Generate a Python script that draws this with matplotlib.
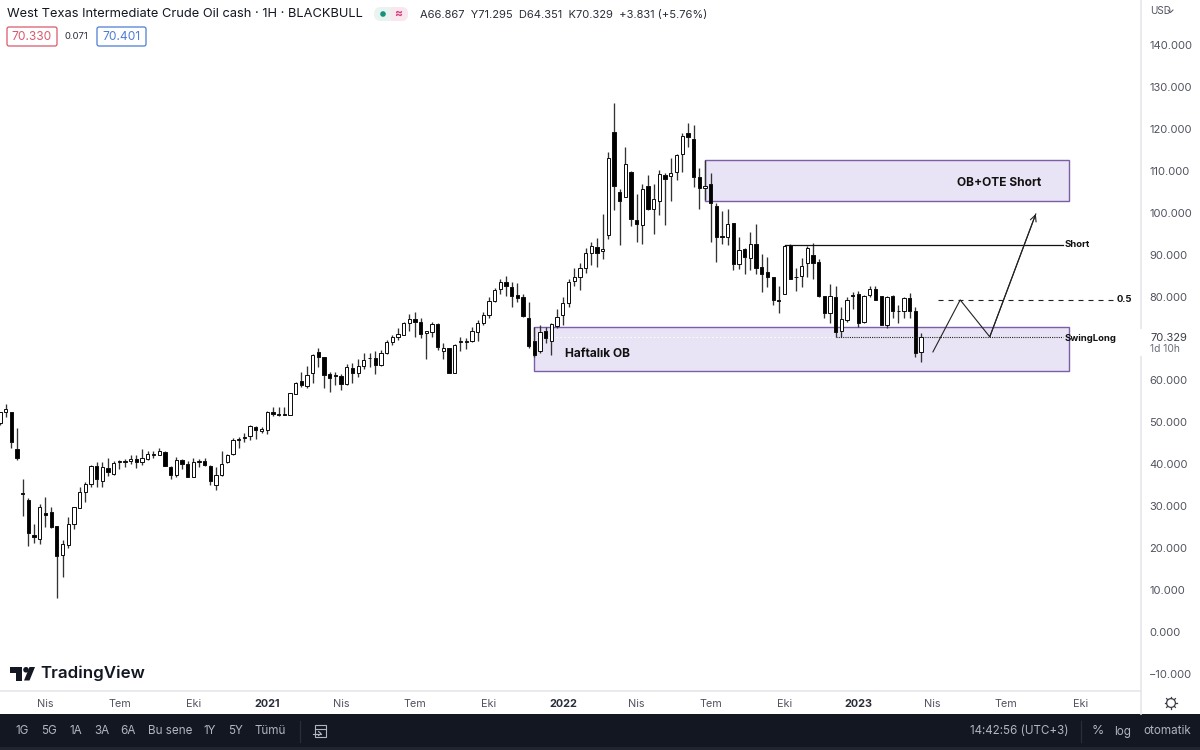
import matplotlib
matplotlib.use("Agg")
import matplotlib.pyplot as plt
from matplotlib.patches import Rectangle, FancyBboxPatch, Polygon, Circle

plt.rcParams['font.family'] = ['Inter', 'DejaVu Sans']

# Weekly candles (USD)
opens = [49.9,52.4,52.4,43.6,33.1,31.6,23.1,22.3,28.3,28.7,
         25.2,18.4,20.8,25.7,29.5,33.5,35.3,39.6,36.1,39.2,
         37.8,40.6,40.6,40.7,41.3,40.5,41.3,42.3,42.3,43.0,
         39.4,37.4,41.0,40.1,37.0,40.5,40.9,39.7,35.1,37.5,
         40.5,42.4,45.8,46.3,46.7,49.0,48.0,48.2,52.5,51.9,
         51.9,51.8,56.8,59.8,58.7,61.7,66.7,65.5,61.5,61.2,
         61.1,59.1,63.0,61.8,63.4,65.3,65.3,63.6,66.5,69.2,
         70.4,70.9,73.7,74.6,74.0,71.2,71.6,73.4,67.1,67.7,
         61.7,69.2,69.2,69.3,71.5,73.6,75.7,78.9,81.9,83.5,
         82.4,80.4,79.8,75.0,69.4,66.9,71.9,69.5,73.0,75.5,
         78.4,83.6,84.6,86.9,90.5,91.8,90.9,94.6,119.2,105.0,
         103.8,109.7,98.2,97.1,106.4,100.8,102.9,109.0,108.7,109.6,
         113.9,118.9,117.5,108.6,105.9,106.9,101.6,94.4,94.1,97.5,
         87.7,91.3,89.1,92.5,87.1,85.8,84.6,79.2,80.7,92.3,
         84.7,84.8,87.9,89.9,88.2,80.1,76.2,80.0,71.9,74.3,
         80.3,80.5,73.9,80.3,81.7,80.1,73.2,80.1,76.6,76.6,
         79.7,76.6,66.867]
highs = [52.4,54.4,52.4,48.6,36.6,31.9,25.8,30.5,32.1,29.7,
         25.2,21.9,27.5,29.9,34.5,35.8,39.8,40.5,40.5,41.6,
         40.8,41.0,41.3,42.3,42.1,43.6,43.2,43.2,43.8,43.2,
         39.7,41.7,41.2,40.8,41.4,41.3,41.5,39.8,39.4,43.2,
         42.5,46.2,46.6,47.5,49.4,49.2,49.0,52.7,53.7,53.6,
         53.6,57.1,59.7,62.1,63.4,66.3,67.7,65.7,61.9,62.1,
         61.5,63.9,64.2,65.2,66.6,66.6,66.9,67.3,69.6,70.8,
         72.4,73.9,75.8,76.3,74.8,71.9,73.9,73.6,69.0,67.8,
         68.8,70.3,70.0,72.8,74.4,76.4,79.8,82.0,84.1,84.9,
         83.5,83.3,80.6,78.8,72.8,73.2,72.8,73.6,77.0,79.8,
         84.3,86.9,88.1,91.5,92.9,93.9,99.8,114.4,126.2,105.6,
         115.7,109.9,104.5,106.8,109.0,106.8,110.2,109.4,113.0,114.0,
         118.9,121.3,120.9,110.6,112.6,109.4,102.4,100.5,100.8,97.5,
         94.1,91.5,95.4,97.2,90.1,89.5,84.7,82.5,92.3,92.5,
         86.9,89.1,92.1,92.7,89.0,80.1,83.0,82.6,77.6,79.8,
         81.2,81.4,80.4,82.5,82.6,80.2,80.1,80.4,78.0,80.0,
         80.8,77.4,71.295]
lows = [49.4,51.2,44.0,41.0,27.7,20.6,21.3,21.1,25.0,24.7,
        8.2,13.0,20.0,24.6,29.5,31.1,34.5,34.7,34.7,37.2,
        37.4,38.8,39.3,40.1,39.1,39.8,41.0,41.4,42.1,39.6,
        36.4,37.0,38.8,36.9,36.9,39.3,39.6,35.1,33.8,37.2,
        40.4,42.3,43.8,45.3,45.8,46.0,47.5,47.2,51.5,51.4,
        51.8,51.7,56.7,58.5,58.3,59.3,63.1,58.3,57.3,58.9,
        57.7,58.8,59.3,60.7,62.8,63.1,61.5,63.5,66.3,68.4,
        69.6,70.8,71.9,70.4,70.2,65.0,70.3,67.3,65.2,61.7,
        61.7,67.1,67.4,69.2,69.3,73.2,74.8,78.7,80.5,80.1,
        77.4,78.8,75.2,67.7,65.7,66.6,68.9,66.1,72.4,73.2,
        77.4,82.6,81.6,85.7,87.5,87.1,88.9,93.7,100.7,92.3,
        103.8,96.8,93.1,92.5,100.7,94.9,99.5,97.1,102.9,107.8,
        109.8,115.7,106.2,101.0,103.0,93.1,88.3,92.5,92.3,86.3,
        86.5,85.4,86.3,85.5,81.0,82.4,78.0,76.0,80.6,84.2,
        81.3,82.4,84.7,84.1,80.0,75.0,73.6,70.4,70.3,74.0,
        77.0,72.7,73.8,79.8,79.2,73.1,72.4,75.0,73.8,75.0,
        74.9,65.5,64.351]
closes = [52.4,53.3,45.3,41.4,32.8,23.7,22.7,29.8,28.0,25.1,
          18.2,21.1,25.7,29.7,33.5,35.2,39.5,36.6,39.4,38.2,
          40.2,40.8,40.8,41.3,40.5,41.6,42.5,42.5,43.2,39.7,
          37.5,41.0,40.1,37.0,40.6,40.9,39.8,35.9,37.5,40.1,
          42.3,45.7,46.0,46.5,49.1,48.2,48.3,52.5,52.0,51.8,
          51.8,56.9,59.5,58.8,61.4,66.1,65.5,61.4,60.6,61.0,
          59.1,63.1,61.8,63.4,64.9,65.4,63.6,66.5,69.2,70.4,
          71.1,73.7,74.6,73.9,71.1,71.7,73.4,67.9,67.7,61.7,
          68.5,69.3,69.3,71.8,73.8,75.5,78.9,81.6,83.5,82.5,
          80.2,79.6,75.4,68.1,66.1,71.6,70.0,73.5,75.2,78.4,
          83.5,84.6,86.7,90.5,92.1,90.3,91.3,113.0,106.4,102.9,
          111.5,98.4,97.2,105.7,101.0,103.2,109.2,108.1,109.5,113.8,
          118.3,118.0,108.4,106.0,106.4,102.2,94.1,94.3,97.2,87.7,
          91.1,89.4,92.5,86.9,85.5,84.7,79.1,79.0,92.1,84.3,
          84.6,87.4,91.7,88.0,80.1,76.2,80.2,71.6,74.6,79.3,
          80.1,73.8,80.2,81.7,79.3,73.3,79.8,76.5,76.5,79.7,
          76.5,66.5,70.329]

y_ticks = [140, 130, 120, 110, 100, 90, 80, 60, 50, 40, 30, 20, 10, 0, -10]
x_tick_pos = [8, 21, 34, 47, 60, 73, 86, 99, 112, 125, 138, 151, 164, 177, 190]
x_tick_labels = ['Nis', 'Tem', 'Eki', '2021', 'Nis', 'Tem', 'Eki', '2022',
                 'Nis', 'Tem', 'Eki', '2023', 'Nis', 'Tem', 'Eki']
zone_upper = (124.0, 188.0, 102.8, 112.6)
zone_lower = (93.9, 188.0, 62.2, 72.7)
short_level = 92.3
half_level = 79.2
swing_level = 70.3
last_price = 70.329
path_x = [164.1, 168.9, 174.1, 182.2]
path_y = [66.8, 79.2, 70.4, 99.7]
ranges = ['1G', '5G', '1A', '3A', '6A', 'Bu sene', '1Y', '5Y', 'Tümü']
range_x = [22, 49, 76, 102, 128, 170, 210, 236, 270]

fig = plt.figure(figsize=(12, 7.5), dpi=100, facecolor='white')
ax = fig.add_axes([0, 59/750, 1141/1200, 691/750])
ax.set_xlim(0, 1141/5.685)
ax.set_ylim(-14.07, 150.73)
ax.set_facecolor('white')
for s in ['top', 'left']:
    ax.spines[s].set_visible(False)
for s in ['right', 'bottom']:
    ax.spines[s].set_color('#e4e6ea')
    ax.spines[s].set_linewidth(1.2)

# zones
for x0, x1, y0, y1 in (zone_upper, zone_lower):
    ax.add_patch(Rectangle((x0, y0), x1-x0, y1-y0, facecolor='#e9e4f5',
                           edgecolor='#7b5ea7', linewidth=1.0, zorder=1))
ax.axhline(last_price, color='white', lw=0.7, ls=(0, (1.5, 2.5)), zorder=1.5)

# candles
idx = list(range(len(closes)))
ax.vlines(idx, lows, highs, color='#333333', lw=0.95, zorder=2)
for i in idx:
    top, bot = max(opens[i], closes[i]), min(opens[i], closes[i])
    col = 'black' if closes[i] < opens[i] else 'white'
    ax.bar(i, top-bot, bottom=bot, width=0.58, color=col, edgecolor='#111111',
           linewidth=0.72, zorder=3)

# drawings
ax.plot([138, 187], [short_level]*2, color='#111111', lw=0.9, zorder=4)
ax.plot([165, 196], [half_level]*2, color='#222222', lw=0.8, ls=(0, (4.5, 4.5)), zorder=4)
ax.plot([147, 187], [swing_level]*2, color='#222222', lw=0.8, ls=(0, (1, 1)), zorder=4)
ax.plot(path_x, path_y, color='#222222', lw=0.8, zorder=4)
ax.annotate('', xy=(path_x[-1], path_y[-1]), xytext=(path_x[-2], path_y[-2]),
            arrowprops=dict(arrowstyle='->', color='#222222', lw=0.8,
                            mutation_scale=11, shrinkA=0, shrinkB=0), zorder=4)
lab = dict(fontweight='bold', color='#111111', va='center', zorder=5)
ax.text(957/5.685, 107.2, 'OB+OTE Short', fontsize=8.6, **lab)
ax.text(565/5.685, 66.3, 'Haftalık OB', fontsize=8.6, **lab)
ax.text(1065/5.685, short_level, 'Short', fontsize=6.8, **lab)
ax.text(1117/5.685, half_level, '0.5', fontsize=6.8, **lab)
ax.text(1065/5.685, swing_level-0.3, 'SwingLong', fontsize=6.8, **lab)

# axes ticks
ax.yaxis.tick_right()
ax.set_yticks(y_ticks)
ax.set_yticklabels([f'{t:.3f}'.replace('-', '\u2212') for t in y_ticks],
                   fontsize=8.0, color='#50535e')
ax.set_xticks(x_tick_pos)
ax.set_xticklabels(x_tick_labels, fontsize=7.8, color='#50535e')
ax.tick_params(axis='both', length=0)
ax.tick_params(axis='y', pad=6)
ax.tick_params(axis='x', pad=6)
for t in ax.get_xticklabels():
    if t.get_text().isdigit():
        t.set_fontweight('bold')
        t.set_color('#2a2e39')

# chrome overlay in pixel coordinates
ov = fig.add_axes([0, 0, 1, 1], zorder=10)
ov.set_xlim(0, 1200)
ov.set_ylim(750, 0)
ov.axis('off')
ov.patch.set_alpha(0)

ov.text(7, 14, 'West Texas Intermediate Crude Oil cash · 1H · BLACKBULL',
        fontsize=9.25, color='#131722', va='center')
ov.add_patch(FancyBboxPatch((374, 7), 34, 14, boxstyle='round,pad=0,rounding_size=7',
                            fc='#e9f3ef', ec='none'))
ov.add_patch(FancyBboxPatch((391, 7), 17, 14, boxstyle='round,pad=0,rounding_size=7',
                            fc='#f9e6ee', ec='none'))
ov.add_patch(Rectangle((391, 7), 8, 14, fc='#f9e6ee', ec='none'))
ov.add_patch(Circle((383, 14), 2.8, fc='#17907f', ec='none'))
ov.text(398, 14, '≈', fontsize=8.5, color='#d0447c', va='center', ha='center',
        fontweight='bold')
ov.text(420, 15, 'A66.867  Y71.295  D64.351  K70.329  +3.831 (+5.76%)', fontsize=8.0,
        color='#2a2e39', va='center')
ov.add_patch(FancyBboxPatch((7, 27), 50, 19, boxstyle='round,pad=0,rounding_size=2',
                            fc='white', ec='#d9596c', lw=0.9))
ov.text(32, 36.5, '70.330', fontsize=8.6, color='#d9596c', ha='center', va='center')
ov.text(76.5, 36.5, '0.071', fontsize=6.8, color='#2a2e39', ha='center', va='center')
ov.add_patch(FancyBboxPatch((97, 27), 49, 19, boxstyle='round,pad=0,rounding_size=2',
                            fc='white', ec='#4d7dd6', lw=0.9))
ov.text(121.5, 36.5, '70.401', fontsize=8.6, color='#4d7dd6', ha='center', va='center')
ov.text(1150, 11, 'USD', fontsize=7.2, color='#50535e', va='center')
ov.plot([1168, 1170.5, 1173], [10, 12.5, 10], color='#50535e', lw=0.7)

# last price tag
ov.add_patch(Rectangle((1140, 329), 60, 27, fc='white', ec='none'))
ov.text(1150, 338, f'{last_price:.3f}', fontsize=8.0, color='#3a3d46', va='center')
ov.text(1150, 349, '1d 10h', fontsize=7.4, color='#6a6d78', va='center')

# logo
ov.add_patch(Polygon([(10, 667), (22, 667), (22, 680.5), (16, 680.5), (16, 673), (10, 673)],
                     fc='#131722', ec='none'))
ov.add_patch(Circle((26, 669.8), 2.8, fc='#131722', ec='none'))
ov.add_patch(Polygon([(29.5, 667), (35, 667), (29.5, 680.5), (24, 680.5)], fc='#131722', ec='none'))
ov.text(40.5, 673.5, 'TradingView', fontsize=12.2, color='#131722', va='center', fontweight='semibold')

# right axis stub and gear
ov.plot([1141, 1141], [691, 714], color='#e4e6ea', lw=1.2)
ov.add_patch(Circle((1171, 703), 4.4, fc='white', ec='#3a3d46', lw=0.9))
for dx, dy in [(0, -6.2), (0, 6.2), (6.2, 0), (-6.2, 0), (4.4, 4.4), (-4.4, 4.4), (4.4, -4.4), (-4.4, -4.4)]:
    ov.plot([1171+dx*0.8, 1171+dx], [703+dy*0.8, 703+dy], color='#3a3d46', lw=0.9)

# bottom bar
ov.add_patch(Rectangle((0, 714), 1200, 33, fc='#131722', ec='none'))
ov.add_patch(Rectangle((0, 746.5), 1200, 4, fc='#20242f', ec='none'))
for t, x in zip(ranges, range_x):
    ov.text(x, 731.5, t, fontsize=8.4, color='#b2b5be', ha='center', va='center')
ov.plot([300, 300], [721, 742], color='#2a2e39', lw=0.9)
ov.add_patch(Rectangle((315, 725), 11, 11.5, fc='none', ec='#b2b5be', lw=0.8))
ov.plot([315, 326], [728.5, 728.5], color='#b2b5be', lw=0.8)
ov.plot([313, 321], [733.5, 733.5], color='#b2b5be', lw=0.8)
ov.plot([318.5, 321, 318.5], [731.5, 733.5, 735.5], color='#b2b5be', lw=0.8)
ov.text(1068, 731.5, '14:42:56 (UTC+3)', fontsize=8.4, color='#b2b5be', ha='right', va='center')
ov.plot([1081, 1081], [721, 742], color='#2a2e39', lw=0.9)
ov.text(1098, 731.5, '%', fontsize=9, color='#b2b5be', ha='center', va='center')
ov.text(1123, 731.5, 'log', fontsize=8.4, color='#b2b5be', ha='center', va='center')
ov.text(1167, 731.5, 'otomatik', fontsize=8.4, color='#b2b5be', ha='center', va='center')

fig.savefig('out.png', dpi=100, facecolor='white')
